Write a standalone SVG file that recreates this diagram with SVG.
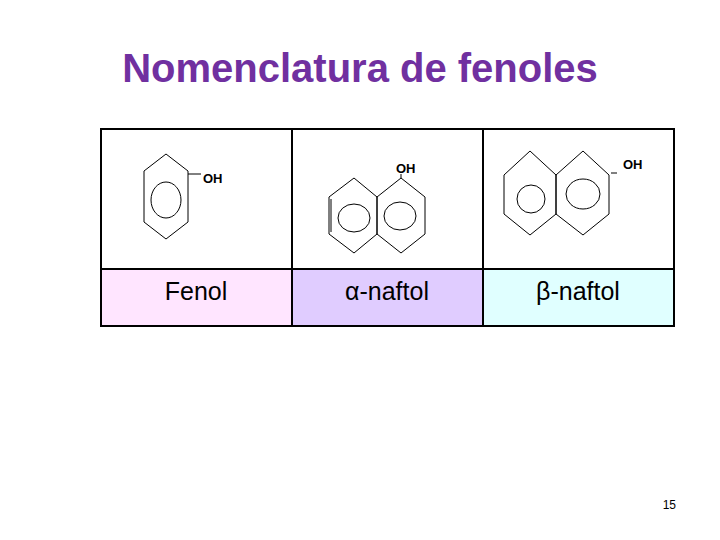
<svg xmlns="http://www.w3.org/2000/svg" width="720" height="540" viewBox="0 0 720 540">
<style>
.m{fill:none;stroke:#000;stroke-width:1}
.oh{font-family:"Liberation Sans",Arial,sans-serif;font-weight:bold;font-size:13px}
.lb{font-family:"Liberation Sans",Arial,sans-serif;font-size:25px;text-anchor:middle}
</style>
<rect width="720" height="540" fill="#fff"/>
<text x="360" y="82" text-anchor="middle" font-family="Liberation Sans,Arial,sans-serif" font-weight="bold" font-size="40" fill="#7030A0">Nomenclatura de fenoles</text>
<g id="table">
<rect x="101" y="269" width="191" height="57" fill="#FFE5FF"/>
<rect x="292" y="269" width="191" height="57" fill="#E0CCFF"/>
<rect x="483" y="269" width="191" height="57" fill="#E0FFFF"/>
<rect x="101" y="129" width="573" height="197" fill="none" stroke="#000" stroke-width="2"/>
<line x1="101" y1="269" x2="674" y2="269" stroke="#000" stroke-width="2"/>
<line x1="292" y1="129" x2="292" y2="326" stroke="#000" stroke-width="2"/>
<line x1="483" y1="129" x2="483" y2="326" stroke="#000" stroke-width="2"/>
</g>
<g id="fenol">
<polygon class="m" points="166,154 188,171 188,222 166,239 144,222 144,171"/>
<ellipse class="m" cx="166" cy="200" rx="15" ry="18"/>
<line class="m" x1="188" y1="174" x2="201" y2="174"/>
<text class="oh" x="203" y="183">OH</text>
<text class="lb" x="196" y="300">Fenol</text>
</g>
<g id="alfa">
<polygon class="m" points="354,178 377,197 377,234 354,253 329,234 329,197"/>
<polygon class="m" points="401,178 425,197 425,234 401,253 377,234 377,197"/>
<line class="m" x1="331" y1="199" x2="331" y2="232"/>
<ellipse class="m" cx="354" cy="218" rx="16" ry="14"/>
<ellipse class="m" cx="400" cy="216" rx="16" ry="14"/>
<line class="m" x1="401" y1="178" x2="401" y2="174"/>
<text class="oh" x="396" y="173">OH</text>
<text class="lb" x="387" y="300">α-naftol</text>
</g>
<g id="beta">
<polygon class="m" points="530,151 556,175 556,214 530,235 504,214 504,175"/>
<polygon class="m" points="583,151 609,175 609,214 583,235 556,214 556,175"/>
<ellipse class="m" cx="531" cy="199" rx="14" ry="14"/>
<ellipse class="m" cx="583" cy="194" rx="17" ry="15"/>
<line class="m" x1="611" y1="173" x2="617" y2="173"/>
<text class="oh" x="623" y="169">OH</text>
<text class="lb" x="578" y="300">β-naftol</text>
</g>
<text x="676" y="509" text-anchor="end" font-family="Liberation Sans,Arial,sans-serif" font-size="12">15</text>
</svg>
